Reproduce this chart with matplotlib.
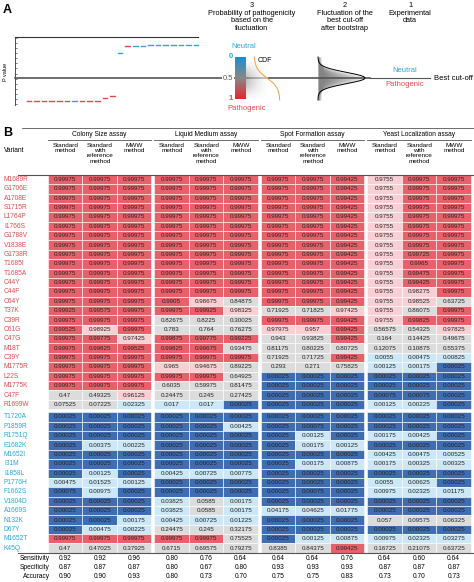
import numpy as np
import matplotlib
matplotlib.use("Agg")
import matplotlib.pyplot as plt
from matplotlib.patches import Rectangle
from matplotlib.colors import LinearSegmentedColormap

plt.rcParams['font.family'] = ['Liberation Sans', 'DejaVu Sans']

assays = ["Colony Size assay", "Liquid Medium assay", "Spot Formation assay", "Yeast Localization assay"]
methods = ["Standard\nmethod", "Standard\nwith\nreference\nmethod", "MWW\nmethod"]

top = 0.99975
path_variants = ["M1689R", "G1706E", "A1708E", "S1715R", "L1764P", "I1766S", "G1788V", "V1838E",
                 "G1738R", "T1685I", "T1685A", "C44Y", "C44F", "C64Y", "T37K", "C39R", "C61G",
                 "C47G", "M18T", "C39Y", "M1775R", "L22S", "M1775K", "C47F", "R1699W"]
yl_ref_top = [top] * 8 + [0.99725, 0.9965, 0.99475, 0.99425]
path_values = [[top, top, top, top, top, top, top, top, 0.99425, 0.9755, r, top] for r in yl_ref_top] + [
    [top, top, top, top, top, top, top, top, 0.99425, 0.9755, 0.98275, top],
    [top, top, top, 0.9905, 0.98675, 0.84875, top, top, 0.99425, 0.9755, 0.98525, 0.63725],
    [0.99925, 0.99575, top, top, 0.99925, 0.98325, 0.71925, 0.71825, 0.97425, 0.9755, 0.86075, top],
    [top, top, top, 0.82675, 0.8225, 0.30025, top, top, 0.99425, 0.9755, 0.99825, top],
    [0.99525, 0.98925, top, 0.783, 0.764, 0.76275, 0.97975, 0.957, 0.99425, 0.56575, 0.54325, 0.97825],
    [top, 0.99775, 0.97425, 0.99875, 0.99775, 0.99225, 0.943, 0.93825, 0.99425, 0.164, 0.14425, 0.49675],
    [top, 0.99825, 0.99525, 0.99825, 0.99675, 0.93475, 0.81175, 0.80225, 0.80725, 0.12075, 0.10875, 0.55375],
    [top, top, top, top, top, top, 0.71925, 0.71725, 0.99425, 0.0055, 0.00475, 0.00825],
    [top, top, top, 0.965, 0.94675, 0.89225, 0.293, 0.271, 0.75825, 0.00125, 0.00175, 0.00025],
    [top, top, top, top, top, 0.64925, 0.00025, 0.00025, 0.00025, 0.00025, 0.00025, 0.00025],
    [top, top, top, 0.6035, 0.59975, 0.81475, 0.00025, 0.00025, 0.00025, 0.00025, 0.00025, 0.00025],
    [0.47, 0.49325, 0.96125, 0.24475, 0.245, 0.27425, 0.00025, 0.00025, 0.00025, 0.00075, 0.00075, 0.00025],
    [0.07525, 0.07225, 0.02325, 0.017, 0.017, 0.00025, 0.00025, 0.00025, 0.00025, 0.00125, 0.00225, 0.00025],
]

b = 0.00025
neut_variants = ["T1720A", "P1859R", "R1751Q", "E1682K", "M1652I", "I31M", "I1858L", "P1776H",
                 "F1662S", "V1804D", "A1669S", "N132K", "D67Y", "M1652T", "K45Q"]
neut_values = [
    [b, b, b, b, b, b, b, b, b, b, b, b],
    [b, b, b, b, b, 0.00425, b, 0.00075, b, b, b, b],
    [b, b, b, b, b, b, b, 0.00125, b, 0.00175, 0.00425, b],
    [b, 0.00375, 0.00225, b, b, b, b, 0.00175, 0.00125, b, b, b],
    [b, b, b, b, b, b, b, b, b, 0.00425, 0.00475, 0.00525],
    [b, b, b, b, b, b, b, 0.00175, 0.00875, 0.00175, 0.00325, 0.00325],
    [b, 0.00125, b, 0.00425, 0.00725, 0.00775, b, b, b, b, b, b],
    [0.00475, 0.01525, 0.00125, b, b, b, b, b, b, 0.0055, 0.00625, b],
    [0.00075, 0.00975, b, b, b, b, b, 0.00075, b, 0.00975, 0.02325, 0.01175],
    [b, b, b, 0.03825, 0.0585, 0.00175, b, b, b, b, b, b],
    [b, b, b, 0.03825, 0.0585, 0.00175, 0.04175, 0.04625, 0.01775, b, b, b],
    [b, b, 0.00175, 0.00425, 0.00725, 0.01225, b, b, b, 0.057, 0.09575, 0.06325],
    [b, 0.00475, 0.00225, 0.24475, 0.245, 0.32175, b, b, b, b, b, b],
    [top, top, top, top, top, 0.75525, b, 0.00125, 0.00875, 0.00975, 0.02325, 0.03275],
    [0.47, 0.47025, 0.37925, 0.6715, 0.69575, 0.79275, 0.8385, 0.84375, 0.99425, 0.16725, 0.21075, 0.63725],
]

stat_names = ["Sensitivity", "Specificity", "Accuracy"]
stat_values = [
    [0.92, 0.92, 0.96, 0.80, 0.76, 0.64, 0.64, 0.64, 0.76, 0.64, 0.60, 0.64],
    [0.87, 0.87, 0.87, 0.80, 0.67, 0.80, 0.93, 0.93, 0.93, 0.87, 0.87, 0.87],
    [0.90, 0.90, 0.93, 0.80, 0.73, 0.70, 0.75, 0.75, 0.83, 0.73, 0.70, 0.73],
]

# panel A step plot (p values, left to right)
step_p = [1e-4] * 10 + [1.5e-4, 2.2e-4, 0.2, 0.55, 0.6, 0.62, 0.63, 0.64, 0.65, 0.66, 0.67, 0.68, 0.69]
step_neutral = [0, 0, 0, 0, 0, 0, 1, 0, 0, 0, 0, 0, 1, 0, 1, 1, 1, 1, 1, 1, 1, 1, 1]

RED = "#e8616a"
PINK = "#f8d0d3"
GRAY = "#dcdcdc"
LBLUE = "#cce8f7"
DBLUE = "#3e6db2"
TRED = "#e34a4f"
TBLUE = "#2aa6dc"


def cell_color(v):
    if v >= 0.99:
        return RED
    if v >= 0.945:
        return PINK
    if v >= 0.05:
        return GRAY
    if v > 0.001:
        return LBLUE
    return DBLUE


def fmt(v):
    s = ("%.5f" % v).rstrip("0")
    return s


fig = plt.figure(figsize=(4.74, 5.82), dpi=100)
ax = fig.add_axes((0, 0, 1, 1))
ax.set_xlim(0, 474)
ax.set_ylim(582, 0)
ax.axis("off")

# ---------------- panel A ----------------
ax.text(3, 10, "A", fontsize=9, fontweight="bold", va="center")
ax.plot([15, 198], [37, 37], color="#333", lw=0.8)
ax.plot([15, 15], [37, 105], color="#333", lw=0.6)
for yy in np.linspace(38, 104, 14):
    ax.plot([15, 17], [yy, yy], color="#333", lw=0.4)
ax.text(6, 72, "P value", fontsize=4, rotation=90, ha="center", va="center")
ax.plot([15, 370], [78, 78], color="#555", lw=1.2)
ax.plot([370, 430], [78, 78], color="#555", lw=0.8)

pa = fig.add_axes((25 / 474, 1 - 105 / 582, 175 / 474, 65 / 582))
pa.set_yscale("log")
pa.set_ylim(5e-5, 1.5)
pa.set_xlim(-0.5, len(step_p) - 0.5)
pa.axis("off")
for i, (p, n) in enumerate(zip(step_p, step_neutral)):
    pa.plot([i - 0.3, i + 0.3], [p, p], color=TBLUE if n else TRED, lw=1)

ax.text(252, 2, "3\nProbability of pathogenicity\nbased on the\nfluctuation", fontsize=5.3,
        ha="center", va="top", linespacing=1.15)
ax.text(345, 2, "2\nFluctuation of the\nbest cut-off\nafter bootstrap", fontsize=5.3,
        ha="center", va="top", linespacing=1.15)
ax.text(410, 2, "1\nExperimental\ndata", fontsize=5.3, ha="center", va="top", linespacing=1.15)

cb = LinearSegmentedColormap.from_list("cb", ["#1a8fd0", "#888888", "#e8262a"])
ax.imshow(np.linspace(0, 1, 100).reshape(-1, 1), cmap=cb, aspect="auto",
          extent=(235, 246, 99, 57), zorder=3)
sh = np.tile(np.linspace(0.5, 0, 30), (40, 1)) * np.sin(np.linspace(0, np.pi, 40))[:, None]
ax.imshow(sh, cmap="Greys", aspect="auto", extent=(246, 268, 100, 60), alpha=0.6, vmin=0, vmax=1, zorder=2)
ax.text(244, 46, "Neutral", color=TBLUE, fontsize=5.5, ha="center", va="center")
ax.text(233, 57, "0", color=TBLUE, fontsize=5.5, fontweight="bold", ha="right", va="center")
ax.text(233, 78, "0.5", color="#555", fontsize=5.5, ha="right", va="center", zorder=4,
        bbox=dict(fc="white", ec="none", pad=0.5))
ax.text(233, 98, "1", color=TRED, fontsize=5.5, fontweight="bold", ha="right", va="center")
ax.text(247, 108, "Pathogenic", color=TRED, fontsize=5.5, ha="center", va="center")
cy = np.linspace(57, 100, 60)
cx = 254 + 26 / (1 + np.exp(-(cy - 78) / 5))
ax.plot(cx, cy, color="#f0a040", lw=0.7)
ax.text(258, 61, "CDF", fontsize=5, va="center")

gy = np.linspace(57, 100, 200)
gx = 318 + 47 * np.exp(-((gy - 78) / 8) ** 2)
for k in range(12):
    f = 1 - k / 12
    ax.fill_betweenx(gy, 318, 318 + (gx - 318) * f + k * 0.3, color="black", alpha=0.05, lw=0)
ax.plot(gx, gy, color="black", lw=0.7)
ax.text(405, 70, "Neutral", color=TBLUE, fontsize=5.5, ha="center", va="center")
ax.text(405, 85, "Pathogenic", color=TRED, fontsize=5.5, ha="center", va="center")
ax.text(434, 78, "Best cut-off", fontsize=5.5, va="center")

# ---------------- panel B ----------------
ax.text(3, 133, "B", fontsize=9, fontweight="bold", va="center")
ax.plot([22, 474], [128, 128], color="#555", lw=0.6)
group_x = [48, 154.5, 261, 367.5]
cw = 34.5
for g, name in enumerate(assays):
    x0 = group_x[g]
    ax.text(x0 + 1.5 * cw, 134.5, name, fontsize=4.8, ha="center", va="center")
    ax.plot([x0, x0 + 3 * cw], [140, 140], color="#555", lw=0.6)
    for m, lab in enumerate(methods):
        ax.text(x0 + (m + 0.5) * cw, 143, lab, fontsize=4.6, ha="center", va="top", linespacing=1.05)
ax.text(4, 150, "Variant", fontsize=4.8, va="center")
ax.plot([18, 474], [175, 175], color="#555", lw=0.8)

rh = 9.37


def draw_rows(names, values, y0, tcolor):
    for i, (name, row) in enumerate(zip(names, values)):
        yc = y0 + i * rh
        ax.text(4, yc, name, color=tcolor, fontsize=4.8, va="center")
        for j, v in enumerate(row):
            x0 = group_x[j // 3] + (j % 3) * cw
            ax.add_patch(Rectangle((x0, yc - rh / 2), cw, rh, fc=cell_color(v), ec="white", lw=0.4))
            ax.text(x0 + cw / 2, yc, fmt(v), fontsize=4.5, ha="center", va="center", color="#222")


draw_rows(path_variants, path_values, 179.5, TRED)
draw_rows(neut_variants, neut_values, 417, TBLUE)

ax.plot([18, 474], [553, 553], color="#555", lw=0.8)
for i, (name, row) in enumerate(zip(stat_names, stat_values)):
    yc = 558 + i * 9.5
    ax.text(50, yc, name, fontsize=4.8, ha="right", va="center")
    for j, v in enumerate(row):
        x0 = group_x[j // 3] + (j % 3) * cw
        ax.text(x0 + cw / 2, yc, "%.2f" % v, fontsize=4.8, ha="center", va="center")

fig.savefig("out.png", dpi=100)
